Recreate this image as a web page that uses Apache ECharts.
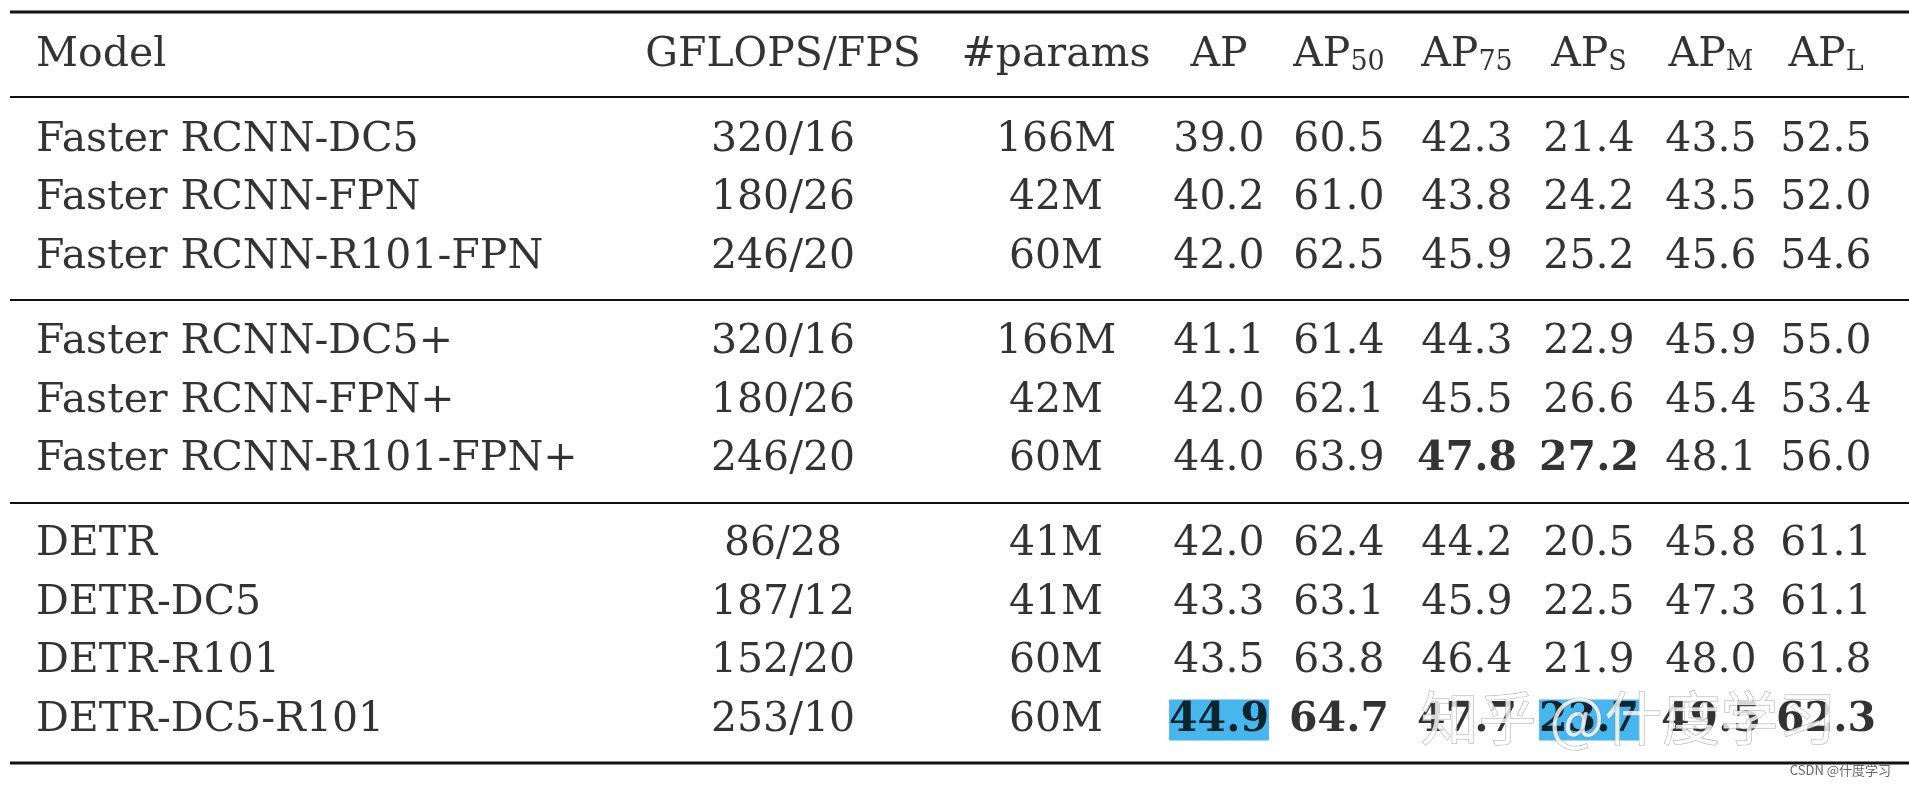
<!DOCTYPE html>
<html><head><meta charset="utf-8">
<script src="https://cdn.jsdelivr.net/npm/echarts@6/dist/echarts.min.js"></script>
<style>html,body{margin:0;padding:0;background:#fff}#c{width:1909px;height:790px}</style>
</head><body><div id="c"></div>
<script>
const headers = ["Model","GFLOPS/FPS","#params","AP","AP|50","AP|75","AP|S","AP|M","AP|L"];
const models = ["Faster RCNN-DC5","Faster RCNN-FPN","Faster RCNN-R101-FPN","Faster RCNN-DC5+","Faster RCNN-FPN+","Faster RCNN-R101-FPN+","DETR","DETR-DC5","DETR-R101","DETR-DC5-R101"];
const gflopsFps = ["320/16","180/26","246/20","320/16","180/26","246/20","86/28","187/12","152/20","253/10"];
const params = ["166M","42M","60M","166M","42M","60M","41M","41M","60M","60M"];
const ap   = ["39.0","40.2","42.0","41.1","42.0","44.0","42.0","43.3","43.5","44.9"];
const ap50 = ["60.5","61.0","62.5","61.4","62.1","63.9","62.4","63.1","63.8","64.7"];
const ap75 = ["42.3","43.8","45.9","44.3","45.5","47.8","44.2","45.9","46.4","47.7"];
const apS  = ["21.4","24.2","25.2","22.9","26.6","27.2","20.5","22.5","21.9","23.7"];
const apM  = ["43.5","43.5","45.6","45.9","45.4","48.1","45.8","47.3","48.0","49.5"];
const apL  = ["52.5","52.0","54.6","55.0","53.4","56.0","61.1","61.1","61.8","62.3"];
// bold cells: [row, column]
const boldCells = [[5,5],[5,6],[9,3],[9,4],[9,5],[9,6],[9,7],[9,8]];
const highlightCells = [[9,3],[9,6]];

// layout (pixel positions)
const colX = [36,783,1056,1219,1339,1467,1589,1711,1826];
const rowY = [140,198,257,342,401,459,544,603,661,720];
const headerY = 55;
const rules = [[12,3],[97,2],[300,2],[503,2],[763,3]];

const cols = [models,gflopsFps,params,ap,ap50,ap75,apS,apM,apL];
const font = "'DejaVu Serif', serif";
const FS = 41;
const series = [];
cols.forEach((col,ci)=>{
  const data = col.map((t,ri)=>{
    const b = boldCells.some(c=>c[0]===ri&&c[1]===ci);
    const h = highlightCells.some(c=>c[0]===ri&&c[1]===ci);
    return {value:[colX[ci], rowY[ri]], name:t, label:{fontWeight:b?'bold':'normal', backgroundColor:h?'#1aa3e8':'transparent'}};
  });
  data.push({value:[colX[ci], headerY], name:headers[ci], isH:true});
  series.push({type:'scatter', symbolSize:0, data,
    label:{show:true, position:'inside', align: ci===0?'left':'center', verticalAlign:'middle',
      fontFamily:font, fontSize:FS, color:'#000',
      formatter:p=>{ if(p.data.isH){const s=p.name.split('|'); return s.length>1?'{a|'+s[0]+'}{s|'+s[1]+'}':'{a|'+s[0]+'}';} return p.name; },
      rich:{a:{fontFamily:font,fontSize:FS,color:'#000'}, s:{fontFamily:font,fontSize:27,color:'#000',padding:[16,0,0,0]}}}
  });
});
const chart = echarts.init(document.getElementById('c'));
chart.setOption({
  animation:false,
  grid:{left:0,right:0,top:0,bottom:0},
  xAxis:{type:'value',min:0,max:1909,show:false},
  yAxis:{type:'value',min:0,max:790,inverse:true,show:false},
  series,
  graphic:[
    ...rules.map(r=>({type:'rect',shape:{x:10,y:r[0]-r[1]/2,width:1899,height:r[1]},style:{fill:'#111'}})),
    {type:'text',left:1420,top:688,z:100,style:{text:'知乎 @什度学习',font:"58px 'Noto Sans CJK SC'",fill:'rgba(255,255,255,0.8)',stroke:'rgba(120,120,120,0.6)',lineWidth:1}},
    {type:'text',right:18,top:764,style:{text:'CSDN @什度学习',font:"13px 'Noto Sans CJK SC'",fill:'#666'}}
  ]
});
</script></body></html>
